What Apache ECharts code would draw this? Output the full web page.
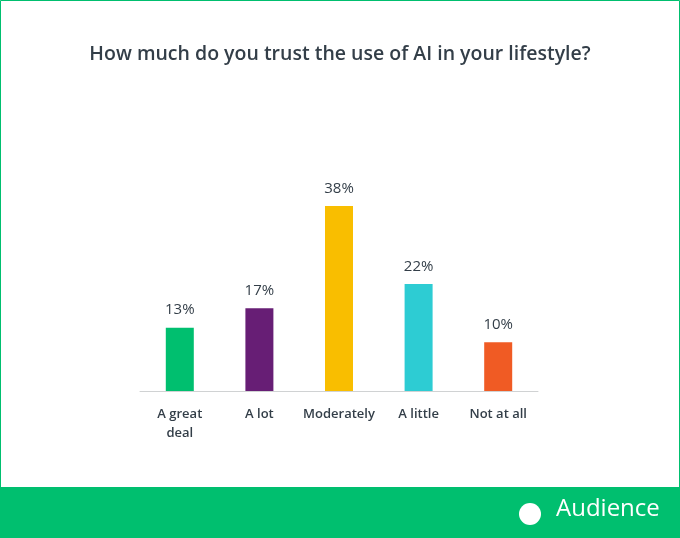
<!DOCTYPE html>
<html>
<head>
<meta charset="utf-8">
<script src="https://cdn.jsdelivr.net/npm/echarts@6/dist/echarts.min.js"></script>
<style>
  html, body { margin: 0; padding: 0; background: #fff; }
  #chart { width: 680px; height: 538px; }
</style>
</head>
<body>
<div id="chart"></div>
<script>
// data
var categories = ['A great\ndeal', 'A lot', 'Moderately', 'A little', 'Not at all'];
var values = [13, 17, 38, 22, 10];
var barColors = ['#00bf6f', '#671e75', '#f9be00', '#2dccd3', '#f05b24'];

var myChart = echarts.init(document.getElementById('chart'));
myChart.setOption({
  animation: false,
  title: {
    text: 'How much do you trust the use of AI in your lifestyle?',
    left: 'center',
    top: 39,
    textStyle: { fontFamily: 'Open Sans', fontSize: 19.5, fontWeight: 600, color: '#333e48' }
  },
  graphic: [
    { type: 'rect', shape: { x: 0.5, y: 0.5, width: 679, height: 537 },
      style: { fill: 'none', stroke: '#00bf6f', lineWidth: 1 } },
    { type: 'rect', shape: { x: 0, y: 487, width: 680, height: 51 },
      style: { fill: '#00bf6f' } },
    { type: 'text', left: 556, top: 497,
      style: { text: 'Audience', fill: '#fff', font: '500 24px "Open Sans"' } },
    { type: 'circle', shape: { cx: 530, cy: 514, r: 11 },
      style: { fill: '#fff' } }
  ],
  grid: { left: 140, right: 142, top: 206, bottom: 147 },
  xAxis: {
    type: 'category',
    data: categories,
    axisLine: { lineStyle: { color: '#d0d2d3' } },
    axisTick: { show: false },
    axisLabel: { interval: 0, color: '#333e48', fontFamily: 'Open Sans', fontSize: 13, fontWeight: 600, margin: 14, lineHeight: 19 }
  },
  yAxis: { type: 'value', min: 0, max: 38, show: false, splitLine: { show: false } },
  series: [{
    type: 'bar',
    barWidth: 28,
    data: values.map(function (v, i) { return { value: v, itemStyle: { color: barColors[i] } }; }),
    label: {
      show: true, position: 'top', distance: 10, formatter: '{c}%',
      color: '#333e48', fontFamily: 'Open Sans', fontSize: 15
    }
  }]
});
</script>
</body>
</html>
